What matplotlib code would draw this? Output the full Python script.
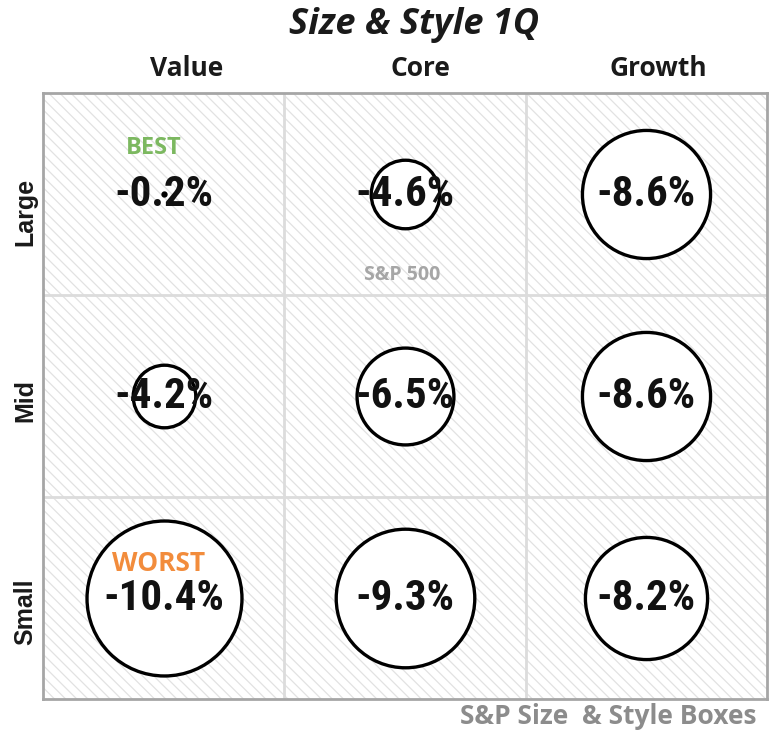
import matplotlib.pyplot as plt
from matplotlib.patches import Rectangle
from matplotlib import font_manager

# data
styles = ["Value", "Core", "Growth"]
sizes = ["Large", "Mid", "Small"]
returns = [[-0.2, -4.6, -8.6],
           [-4.2, -6.5, -8.6],
           [-10.4, -9.3, -8.2]]
best_cell = (0, 0)   # (row, col)
worst_cell = (2, 0)

# look for a narrow bold font for the numbers
fonts = font_manager.fontManager.ttflist
names = set(f.name for f in fonts)
num_font = dict(family="Liberation Sans", size=26)
if "Liberation Sans Narrow" in names:
    num_font = dict(family="Liberation Sans Narrow", size=30)
elif "Roboto Condensed" in names:
    num_font = dict(family="Roboto Condensed", size=31)
else:
    cond = [f for f in fonts if f.stretch in ('condensed', 'semi-condensed')
            and f.name in ('Roboto', 'Noto Sans', 'Liberation Sans', 'DejaVu Sans', 'Open Sans')]
    if cond:
        num_font = dict(family=cond[0].name, size=26.5, stretch='condensed')
calib = "Open Sans"

plt.rcParams['hatch.linewidth'] = 0.9
plt.rcParams['hatch.color'] = '#e2e2e2'

fig = plt.figure(figsize=(7.8, 7.36), dpi=100)
ax = fig.add_axes([43/780, 1-699/736, 724/780, 606/736])
ax.set_xlim(0, 3)
ax.set_ylim(3, 0)
ax.set_xticks([])
ax.set_yticks([])
for s in ax.spines.values():
    s.set_color('#a6a6a6')
    s.set_linewidth(2)

# hatched background
ax.add_patch(Rectangle((0, 0), 3, 3, facecolor='white', edgecolor='#e2e2e2',
                       hatch='\\\\\\', linewidth=0, zorder=0))
for k in [1, 2]:
    ax.axvline(k, color='#dcdcdc', lw=2, zorder=1)
    ax.axhline(k, color='#dcdcdc', lw=2, zorder=1)

# circle size grows linearly with the size of the loss
px_per_pct = 7.45
for r, row in enumerate(returns):
    for c, v in enumerate(row):
        diam_pt = 2 * px_per_pct * abs(v) * 0.72
        ax.scatter(c + 0.5, r + 0.5, s=diam_pt**2, facecolor='white',
                   edgecolor='black', linewidth=2.4, zorder=2)
        ax.text(c + 0.5, r + 0.5, f"{v:.1f}%", ha='center', va='center',
                fontsize=num_font['size'], fontweight='bold', family=num_font['family'],
                fontstretch=num_font.get('stretch', 'normal'), color='#111111', zorder=3)

ax.text(best_cell[1] + 0.46, best_cell[0] + 0.27, "BEST", ha='center', va='center',
        fontsize=17, fontweight='bold', family=calib, color='#7cb860', zorder=3)
ax.text(worst_cell[1] + 0.48, worst_cell[0] + 0.33, "WORST", ha='center', va='center',
        fontsize=19, fontweight='bold', family=calib, color='#f28c3c', zorder=3)
ax.text(1.49, 0.9, "S&P 500", ha='center', va='center',
        fontsize=14, fontweight='bold', family=calib, color='#a6a6a6', zorder=3)

fig.text(414/780, 1-25/736, "Size & Style 1Q", ha='center', va='center',
         fontsize=26, fontweight='bold', style='italic', family=calib, color='#1a1a1a')
for x, name in zip([187, 420, 658], styles):
    fig.text(x/780, 1-68/736, name, ha='center', va='center',
             fontsize=19, fontweight='bold', family=calib, color='#1a1a1a')
for y, name in zip([212, 400, 612], sizes):
    fig.text(25/780, 1-y/736, name, ha='center', va='center', rotation=90,
             fontsize=18, fontweight='bold', family='Liberation Sans', color='#1a1a1a')
fig.text(757/780, 1-717/736, "S&P Size  & Style Boxes", ha='right', va='center',
         fontsize=19, fontweight='bold', family=calib, color='#8c8c8c')

fig.savefig("out.png", dpi=100)
